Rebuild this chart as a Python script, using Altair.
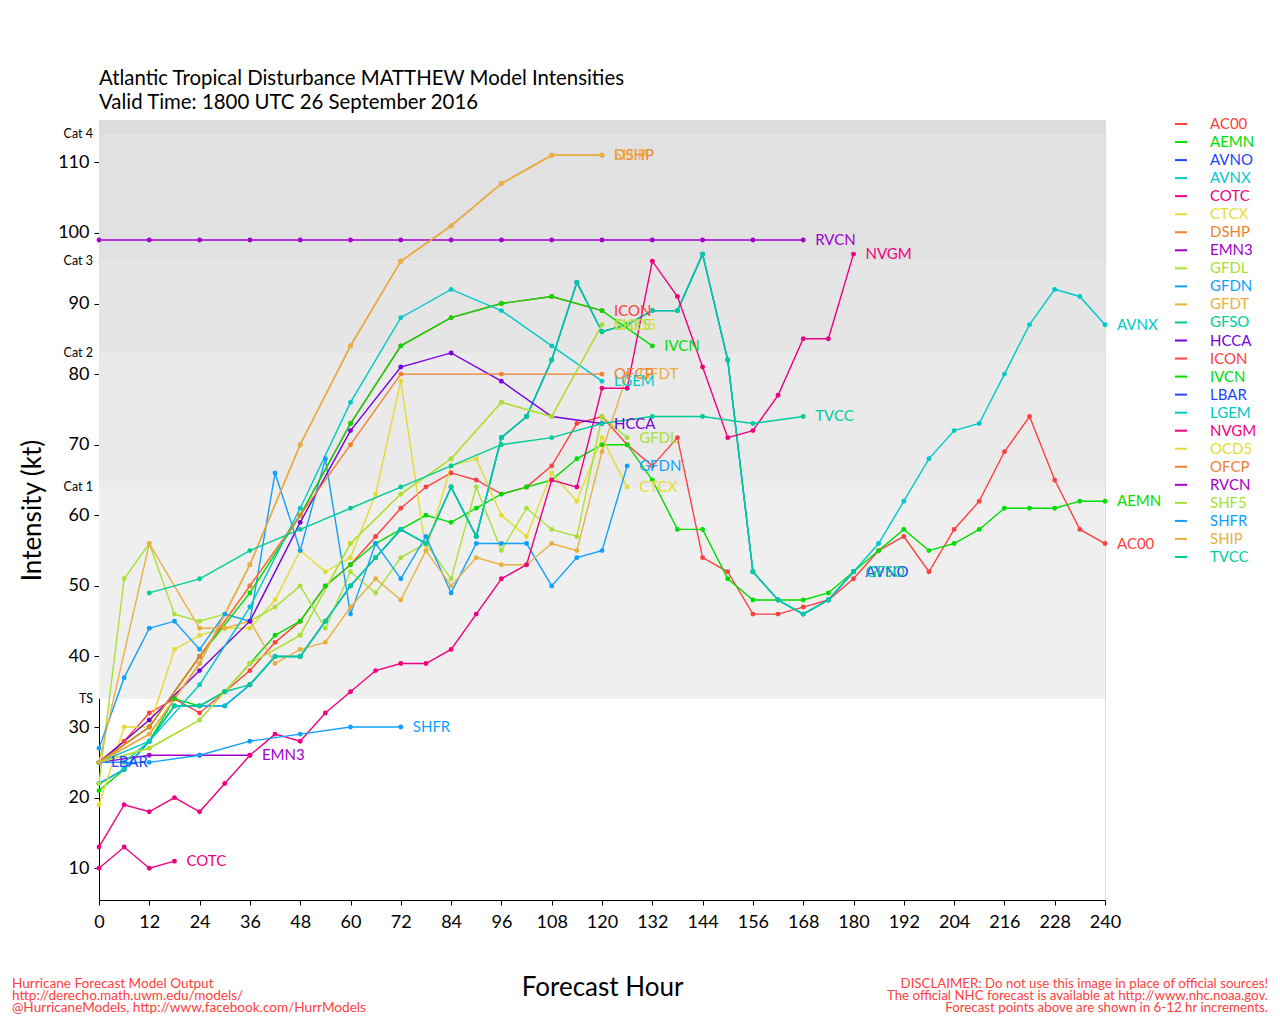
import altair as alt
import pandas as pd

# ---------------- data ----------------
MODELS = ["AC00", "AEMN", "AVNO", "AVNX", "COTC", "CTCX", "DSHP", "EMN3", "GFDL",
          "GFDN", "GFDT", "GFSO", "HCCA", "ICON", "IVCN", "LBAR", "LGEM", "NVGM",
          "OCD5", "OFCP", "RVCN", "SHF5", "SHFR", "SHIP", "TVCC"]
PALETTE = ["#ff4040", "#00dd00", "#2244ff", "#00c8c8", "#ee0080", "#e4dc30", "#f08030",
           "#a000cc", "#a8e038", "#10a0ff", "#e8b040", "#00cc99", "#7700dd"]

H6_240 = list(range(0, 241, 6))
H6_180 = list(range(0, 181, 6))
H6_126 = list(range(0, 127, 6))
H12_120 = list(range(0, 121, 12))

AC00 = [25, 28, 32, 34, 32, 35, 38, 42, 45, 50, 53, 57, 61, 64, 66, 65, 63, 64, 67, 73, 74,
        70, 67, 71, 54, 52, 46, 46, 47, 48, 51, 55, 57, 52, 58, 62, 69, 74, 65, 58, 56]
AEMN = [21, 24, 28, 34, 33, 35, 39, 43, 45, 50, 53, 56, 58, 60, 59, 61, 63, 64, 65, 68, 70,
        70, 65, 58, 58, 51, 48, 48, 48, 49, 52, 55, 58, 55, 56, 58, 61, 61, 61, 62, 62]
AVNX = [22, 24, 28, 33, 33, 33, 36, 40, 40, 45, 50, 54, 58, 56, 64, 57, 71, 74, 82, 93, 86,
        87, 89, 89, 97, 82, 52, 48, 46, 48, 52, 56, 62, 68, 72, 73, 80, 87, 92, 91, 87]
AVNO = [22, 24, 28, 33, 33, 33, 36, 40, 40, 45, 50, 54, 58, 56, 64, 57, 71, 74, 82, 93, 86,
        87, 89, 89, 97, 82, 52, 48, 46, 48, 52]
GFSO = [25, 25, 28, 33, 33, 35, 36, 40, 40, 45, 50, 54, 58, 56, 64, 57, 71, 74, 82, 93, 86,
        87, 89, 89, 97, 82, 52, 48, 46, 48, 52]
NVGM = [13, 19, 18, 20, 18, 22, 26, 29, 28, 32, 35, 38, 39, 39, 41, 46, 51, 53, 65, 64, 78,
        78, 96, 91, 81, 71, 72, 77, 85, 85, 97]
CTCX = [19, 30, 30, 41, 43, 44, 44, 48, 55, 52, 54, 63, 79, 55, 67, 68, 60, 57, 66, 62, 71, 64]
GFDL = [22, 51, 56, 46, 45, 46, 45, 47, 50, 44, 52, 49, 54, 56, 51, 64, 55, 61, 58, 57, 74, 71]
GFDN = [27, 37, 44, 45, 41, 46, 45, 66, 55, 68, 46, 56, 51, 57, 49, 56, 56, 56, 50, 54, 55, 67]
GFDT_H = [0, 12, 24, 30, 36, 42, 48, 54, 60, 66, 72, 78, 84, 90, 96, 102, 108, 114, 120, 126]
GFDT = [25, 56, 44, 44, 45, 39, 41, 42, 47, 51, 48, 55, 50, 54, 53, 53, 56, 55, 69, 80]
DSHP = [25, 29, 39, 53, 70, 84, 96, 101, 107, 111, 111]
SHIP = [25, 29, 39, 53, 70, 84, 96, 101, 107, 111, 111]
HCCA = [25, 31, 38, 45, 59, 72, 81, 83, 79, 74, 73]
ICON = [25, 30, 40, 50, 60, 73, 84, 88, 90, 91, 89]
IVCN_H = list(range(0, 133, 12))
IVCN = [25, 30, 40, 49, 60, 73, 84, 88, 90, 91, 89, 84]
LGEM = [25, 28, 36, 47, 61, 76, 88, 92, 89, 84, 79]
SHF5 = [25, 27, 31, 39, 43, 56, 63, 68, 76, 74, 87]
OCD5 = [25, 27, 31, 39, 43, 56, 63, 68, 76, 74, 87]
OFCP_H = [0, 12, 24, 36, 48, 60, 72, 96, 120]
OFCP = [25, 30, 40, 50, 60, 70, 80, 80, 80]
RVCN_H = list(range(0, 169, 12))
RVCN = [99] * 15
SHFR_H = list(range(0, 73, 12))
SHFR = [25, 25, 26, 28, 29, 30, 30]
TVCC_H = list(range(12, 169, 12))
TVCC = [49, 51, 55, 58, 61, 64, 67, 70, 71, 73, 74, 74, 73, 74]
COTC_H = [0, 6, 12, 18]
COTC = [10, 13, 10, 11]
EMN3_H = [0, 12, 24, 36]
EMN3 = [25, 26, 26, 26]
LBAR_H = [0]
LBAR = [25]

SERIES = {
    "AC00": (H6_240, AC00), "AEMN": (H6_240, AEMN), "AVNO": (H6_180, AVNO),
    "AVNX": (H6_240, AVNX), "COTC": (COTC_H, COTC), "CTCX": (H6_126, CTCX),
    "DSHP": (H12_120, DSHP), "EMN3": (EMN3_H, EMN3), "GFDL": (H6_126, GFDL),
    "GFDN": (H6_126, GFDN), "GFDT": (GFDT_H, GFDT), "GFSO": (H6_180, GFSO),
    "HCCA": (H12_120, HCCA), "ICON": (H12_120, ICON), "IVCN": (IVCN_H, IVCN),
    "LBAR": (LBAR_H, LBAR), "LGEM": (H12_120, LGEM), "NVGM": (H6_180, NVGM),
    "OCD5": (H12_120, OCD5), "OFCP": (OFCP_H, OFCP), "RVCN": (RVCN_H, RVCN),
    "SHF5": (H12_120, SHF5), "SHFR": (SHFR_H, SHFR), "SHIP": (H12_120, SHIP),
    "TVCC": (TVCC_H, TVCC),
}

BAND_LO = [34, 64, 83, 96, 114]
BAND_HI = [64, 83, 96, 114, 116]
BAND_FILL = ["#efefef", "#eaeaea", "#e5e5e5", "#e1e1e1", "#dcdcdc"]
CAT_LEVEL = [34, 64, 83, 96, 114]
CAT_NAME = ["TS", "Cat 1", "Cat 2", "Cat 3", "Cat 4"]

TITLE = ["Atlantic Tropical Disturbance MATTHEW Model Intensities",
         "Valid Time: 1800 UTC 26 September 2016"]
FOOT_LEFT = ("Hurricane Forecast Model Output\nhttp://derecho.math.uwm.edu/models/\n"
             "@HurricaneModels, http://www.facebook.com/HurrModels")
FOOT_RIGHT = ("DISCLAIMER: Do not use this image in place of official sources!\n"
              "The official NHC forecast is available at http://www.nhc.noaa.gov.\n"
              "Forecast points above are shown in 6-12 hr increments.")

# ---------------- build tables ----------------
COLORS = [PALETTE[i % len(PALETTE)] for i in range(len(MODELS))]
rows = []
for m in MODELS:
    hrs, vals = SERIES[m]
    for h, v in zip(hrs, vals):
        rows.append({"model": m, "hour": h, "kt": v})
df = pd.DataFrame(rows)
last = df.sort_values("hour").groupby("model", as_index=False).last()
bands = pd.DataFrame({"lo": BAND_LO, "hi": BAND_HI, "fill": BAND_FILL})
cats = pd.DataFrame({"kt": CAT_LEVEL, "name": CAT_NAME})
leg = pd.DataFrame({"model": MODELS})

W, H = 1006, 780
FONT = "Lato"
xs = alt.Scale(domain=[0, 240], nice=False, zero=False)
ys = alt.Scale(domain=[5.5, 116], nice=False, zero=False)
cs = alt.Scale(domain=MODELS, range=COLORS)

band_layer = alt.Chart(bands).mark_rect().encode(
    x=alt.datum(0, scale=xs), x2=alt.datum(240),
    y=alt.Y("lo:Q", scale=ys), y2="hi:Q",
    fill=alt.Fill("fill:N", scale=None),
)

xaxis = alt.Axis(values=list(range(0, 241, 12)), title="Forecast Hour", grid=False,
                 labelFontSize=18, titleFontSize=26, labelFont=FONT, titleFont=FONT,
                 titleFontWeight="normal", labelColor="black", titleColor="black",
                 domainColor="black", tickColor="black", tickSize=5, labelPadding=8,
                 titlePadding=43, labelFlush=False)
yaxis = alt.Axis(values=list(range(10, 111, 10)), title="Intensity (kt)", grid=False,
                 labelFontSize=18, titleFontSize=26, labelFont=FONT, titleFont=FONT,
                 titleFontWeight="normal", labelColor="black", titleColor="black",
                 domainColor="black", tickColor="black", tickSize=5, labelPadding=5,
                 titlePadding=12)

base = alt.Chart(df).encode(
    x=alt.X("hour:Q", scale=xs, axis=xaxis),
    y=alt.Y("kt:Q", scale=ys, axis=yaxis),
    color=alt.Color("model:N", scale=cs, legend=None),
)
lines = base.mark_line(strokeWidth=1.4)
points = base.mark_circle(size=24, opacity=1)

end_labels = alt.Chart(last).mark_text(
    align="left", baseline="middle", dx=12, fontSize=15, font=FONT
).encode(
    x=alt.X("hour:Q", scale=xs), y=alt.Y("kt:Q", scale=ys),
    text="model:N", color=alt.Color("model:N", scale=cs, legend=None),
)

cat_labels = alt.Chart(cats).mark_text(
    align="right", baseline="middle", fontSize=12.5, font=FONT, color="black"
).encode(x=alt.value(-6), y=alt.Y("kt:Q", scale=ys), text="name:N")

foot_l = alt.Chart(pd.DataFrame({"t": [FOOT_LEFT]})).mark_text(
    align="left", baseline="top", fontSize=13.6, font=FONT, color="#ff4040",
    lineBreak="\n", lineHeight=12
).encode(x=alt.value(-87), y=alt.value(857), text="t:N")
foot_r = alt.Chart(pd.DataFrame({"t": [FOOT_RIGHT]})).mark_text(
    align="right", baseline="top", fontSize=13.3, font=FONT, color="#ff4040",
    lineBreak="\n", lineHeight=12
).encode(x=alt.value(1169), y=alt.value(857), text="t:N")

main = alt.layer(band_layer, lines, points, end_labels, cat_labels, foot_l, foot_r)

ly = alt.Y("model:N", scale=alt.Scale(type="point", domain=MODELS, range=[4, 437], padding=0),
           axis=None)
leg_rule = alt.Chart(leg).mark_rule(strokeWidth=2).encode(
    x=alt.value(1076), x2=alt.value(1088), y=ly,
    color=alt.Color("model:N", scale=cs, legend=None),
)
leg_text = alt.Chart(leg).mark_text(
    align="left", baseline="middle", fontSize=15, font=FONT
).encode(
    x=alt.value(1111), y=ly, text="model:N",
    color=alt.Color("model:N", scale=cs, legend=None),
)
legend = alt.layer(leg_rule, leg_text)

chart = alt.layer(main, legend).resolve_scale(y="independent").properties(
    width=W, height=H,
    title=alt.TitleParams(text=TITLE, anchor="start", frame="group", fontSize=20.4,
                          font=FONT, fontWeight="normal", color="black", offset=4,
                          lineHeight=24),
    autosize=alt.AutoSizeParams(type="none"),
    padding={"left": 99, "top": 120, "right": 175, "bottom": 124},
).configure_view(stroke="black", strokeWidth=1).configure(font=FONT, background="white")

chart.save("out.html", embed_options={"renderer": "svg", "actions": False})
